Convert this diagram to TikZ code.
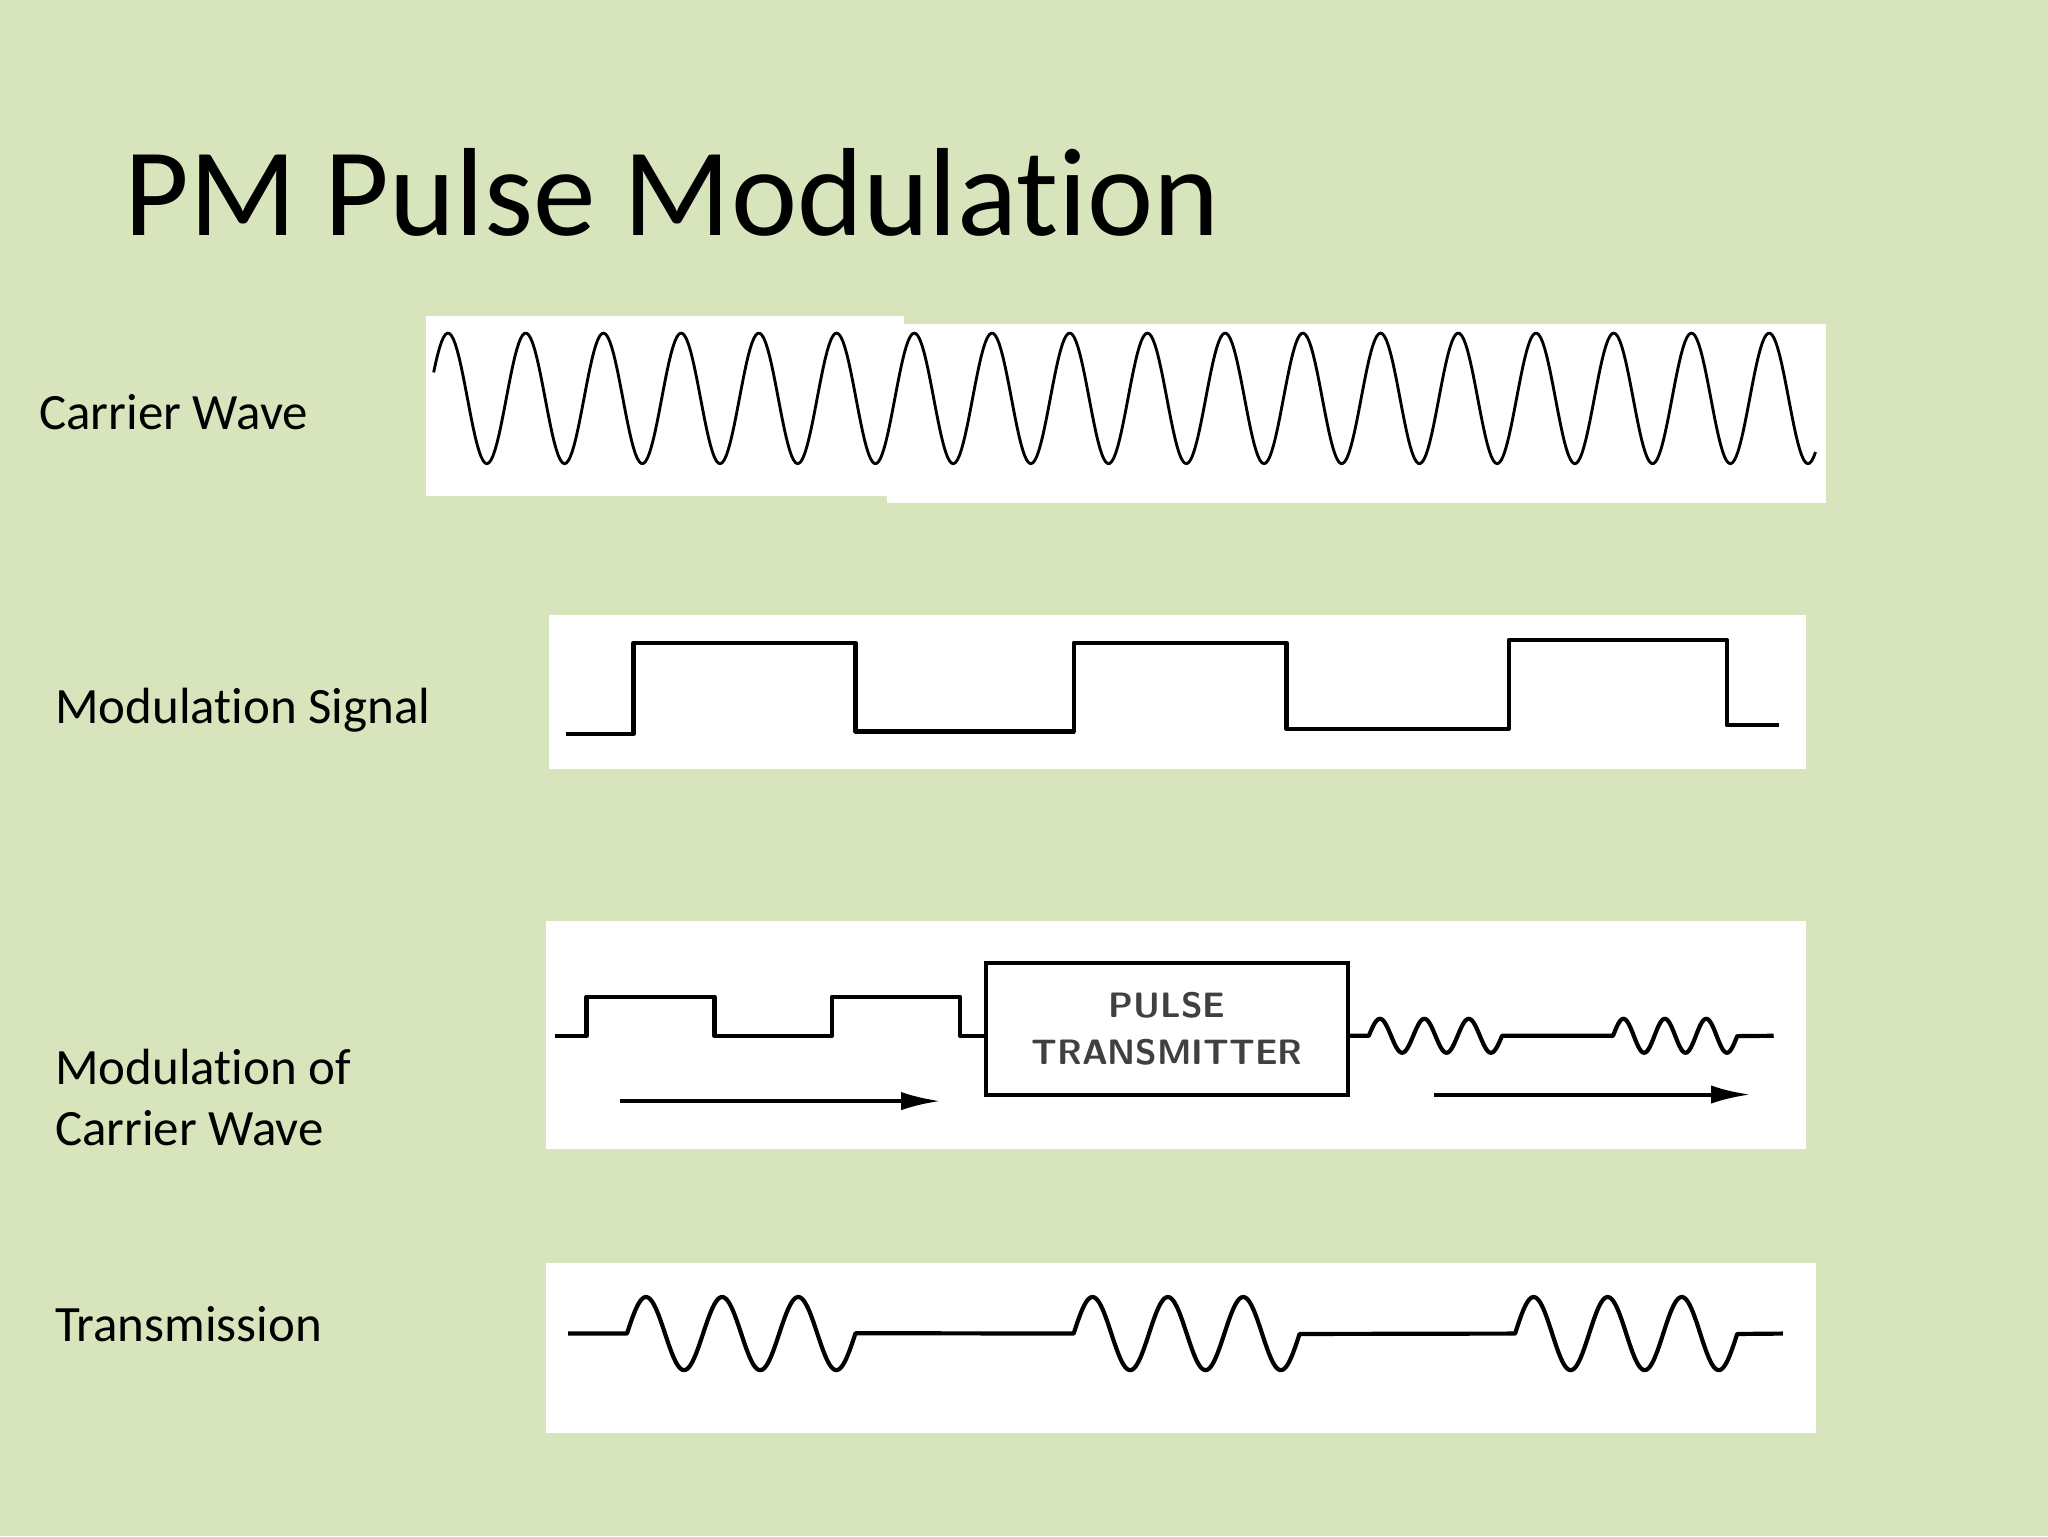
\documentclass[tikz,border=0pt]{standalone}
\usepackage{fontspec}
\setmainfont[Ligatures=CommonOff]{Carlito}
\usetikzlibrary{arrows.meta}
\definecolor{bg}{HTML}{D8E4BC}
\begin{document}
\begin{tikzpicture}[x=1pt,y=-1pt,
  lbl/.style={anchor=base west,inner sep=0pt,font=\fontsize{39}{46}\selectfont},
  panel/.style={fill=white,draw=none},
  wave/.style={line width=2.2pt,line join=round},
  sig/.style={line width=3.2pt,line join=round}]
\fill[bg] (0,0) rectangle (1568,1176);
\useasboundingbox (0,0) rectangle (1568,1176);
\node[anchor=base west,inner sep=0pt,font=\fontsize{96}{110}\selectfont] (title) at (95,180) {PM Pulse Modulation};
% carrier
\fill[panel] (326,242) rectangle (692,380);
\fill[panel] (679,248) rectangle (1398,385);
\draw[wave] plot[domain=332:1390,samples=700] (\x,{305-50*cos((\x-343)*(360/59.5))});
\node[lbl] (l1) at (30,329) {Carrier Wave};
% modulation signal
\fill[panel] (420,471) rectangle (1383,589);
\draw[sig] (433,562) -- (485,562) -- (485,492) -- (655,492) -- (655,560) -- (822,560) -- (822,492) -- (985,492) -- (985,558) -- (1155,558) -- (1155,490) -- (1322,490) -- (1322,555) -- (1362,555);
\node[lbl] (l2) at (42,554) {Modulation Signal};
% modulation of carrier
\fill[panel] (418,705) rectangle (1383,880);
\node[draw,line width=3pt,minimum width=277pt,minimum height=101pt,inner sep=0pt,align=center,
  font=\sffamily\bfseries\fontsize{27}{36}\selectfont,text=black!75] (tx) at (893.5,787.5) {PULSE\\TRANSMITTER};
\draw[sig] (425,793) -- (449,793) -- (449,763) -- (547,763) -- (547,793) -- (637,793) -- (637,763) -- (735,763) -- (735,793) -- (tx.west |- 0,793);
\draw[sig] (tx.east |- 0,793) -- (1048,793)
  -- plot[domain=1048:1150,samples=120] (\x,{793-13*sin((\x-1048)*(360/34))})
  -- (1235,793)
  -- plot[domain=1235:1330,samples=120] (\x,{793-13*sin((\x-1235)*(360/31.7))})
  -- (1358,793);
\coordinate (a1s) at (475,843); \coordinate (a1e) at (720,843);
\coordinate (a2s) at (1098,838); \coordinate (a2e) at (1340,838);
\draw[line width=3pt,-{Latex[length=30pt,width=14pt]}] (a1s) -- (a1e);
\draw[line width=3pt,-{Latex[length=30pt,width=14pt]}] (a2s) -- (a2e);
\node[lbl] (l3a) at (42,830) {Modulation of};
\node[lbl] (l3b) at (42,877) {Carrier Wave};
% transmission
\fill[panel] (418,967) rectangle (1390,1097);
\draw[sig] (435,1021) -- (480,1021)
  -- plot[domain=480:655,samples=150] (\x,{1021-28*sin((\x-480)*(360/58.3))})
  -- (822,1021)
  -- plot[domain=822:995,samples=150] (\x,{1021-28*sin((\x-822)*(360/57.7))})
  -- (1160,1021)
  -- plot[domain=1160:1330,samples=150] (\x,{1021-28*sin((\x-1160)*(360/56.7))})
  -- (1365,1021);
\node[lbl] (l4) at (42,1027) {Transmission};
\end{tikzpicture}
\end{document}
